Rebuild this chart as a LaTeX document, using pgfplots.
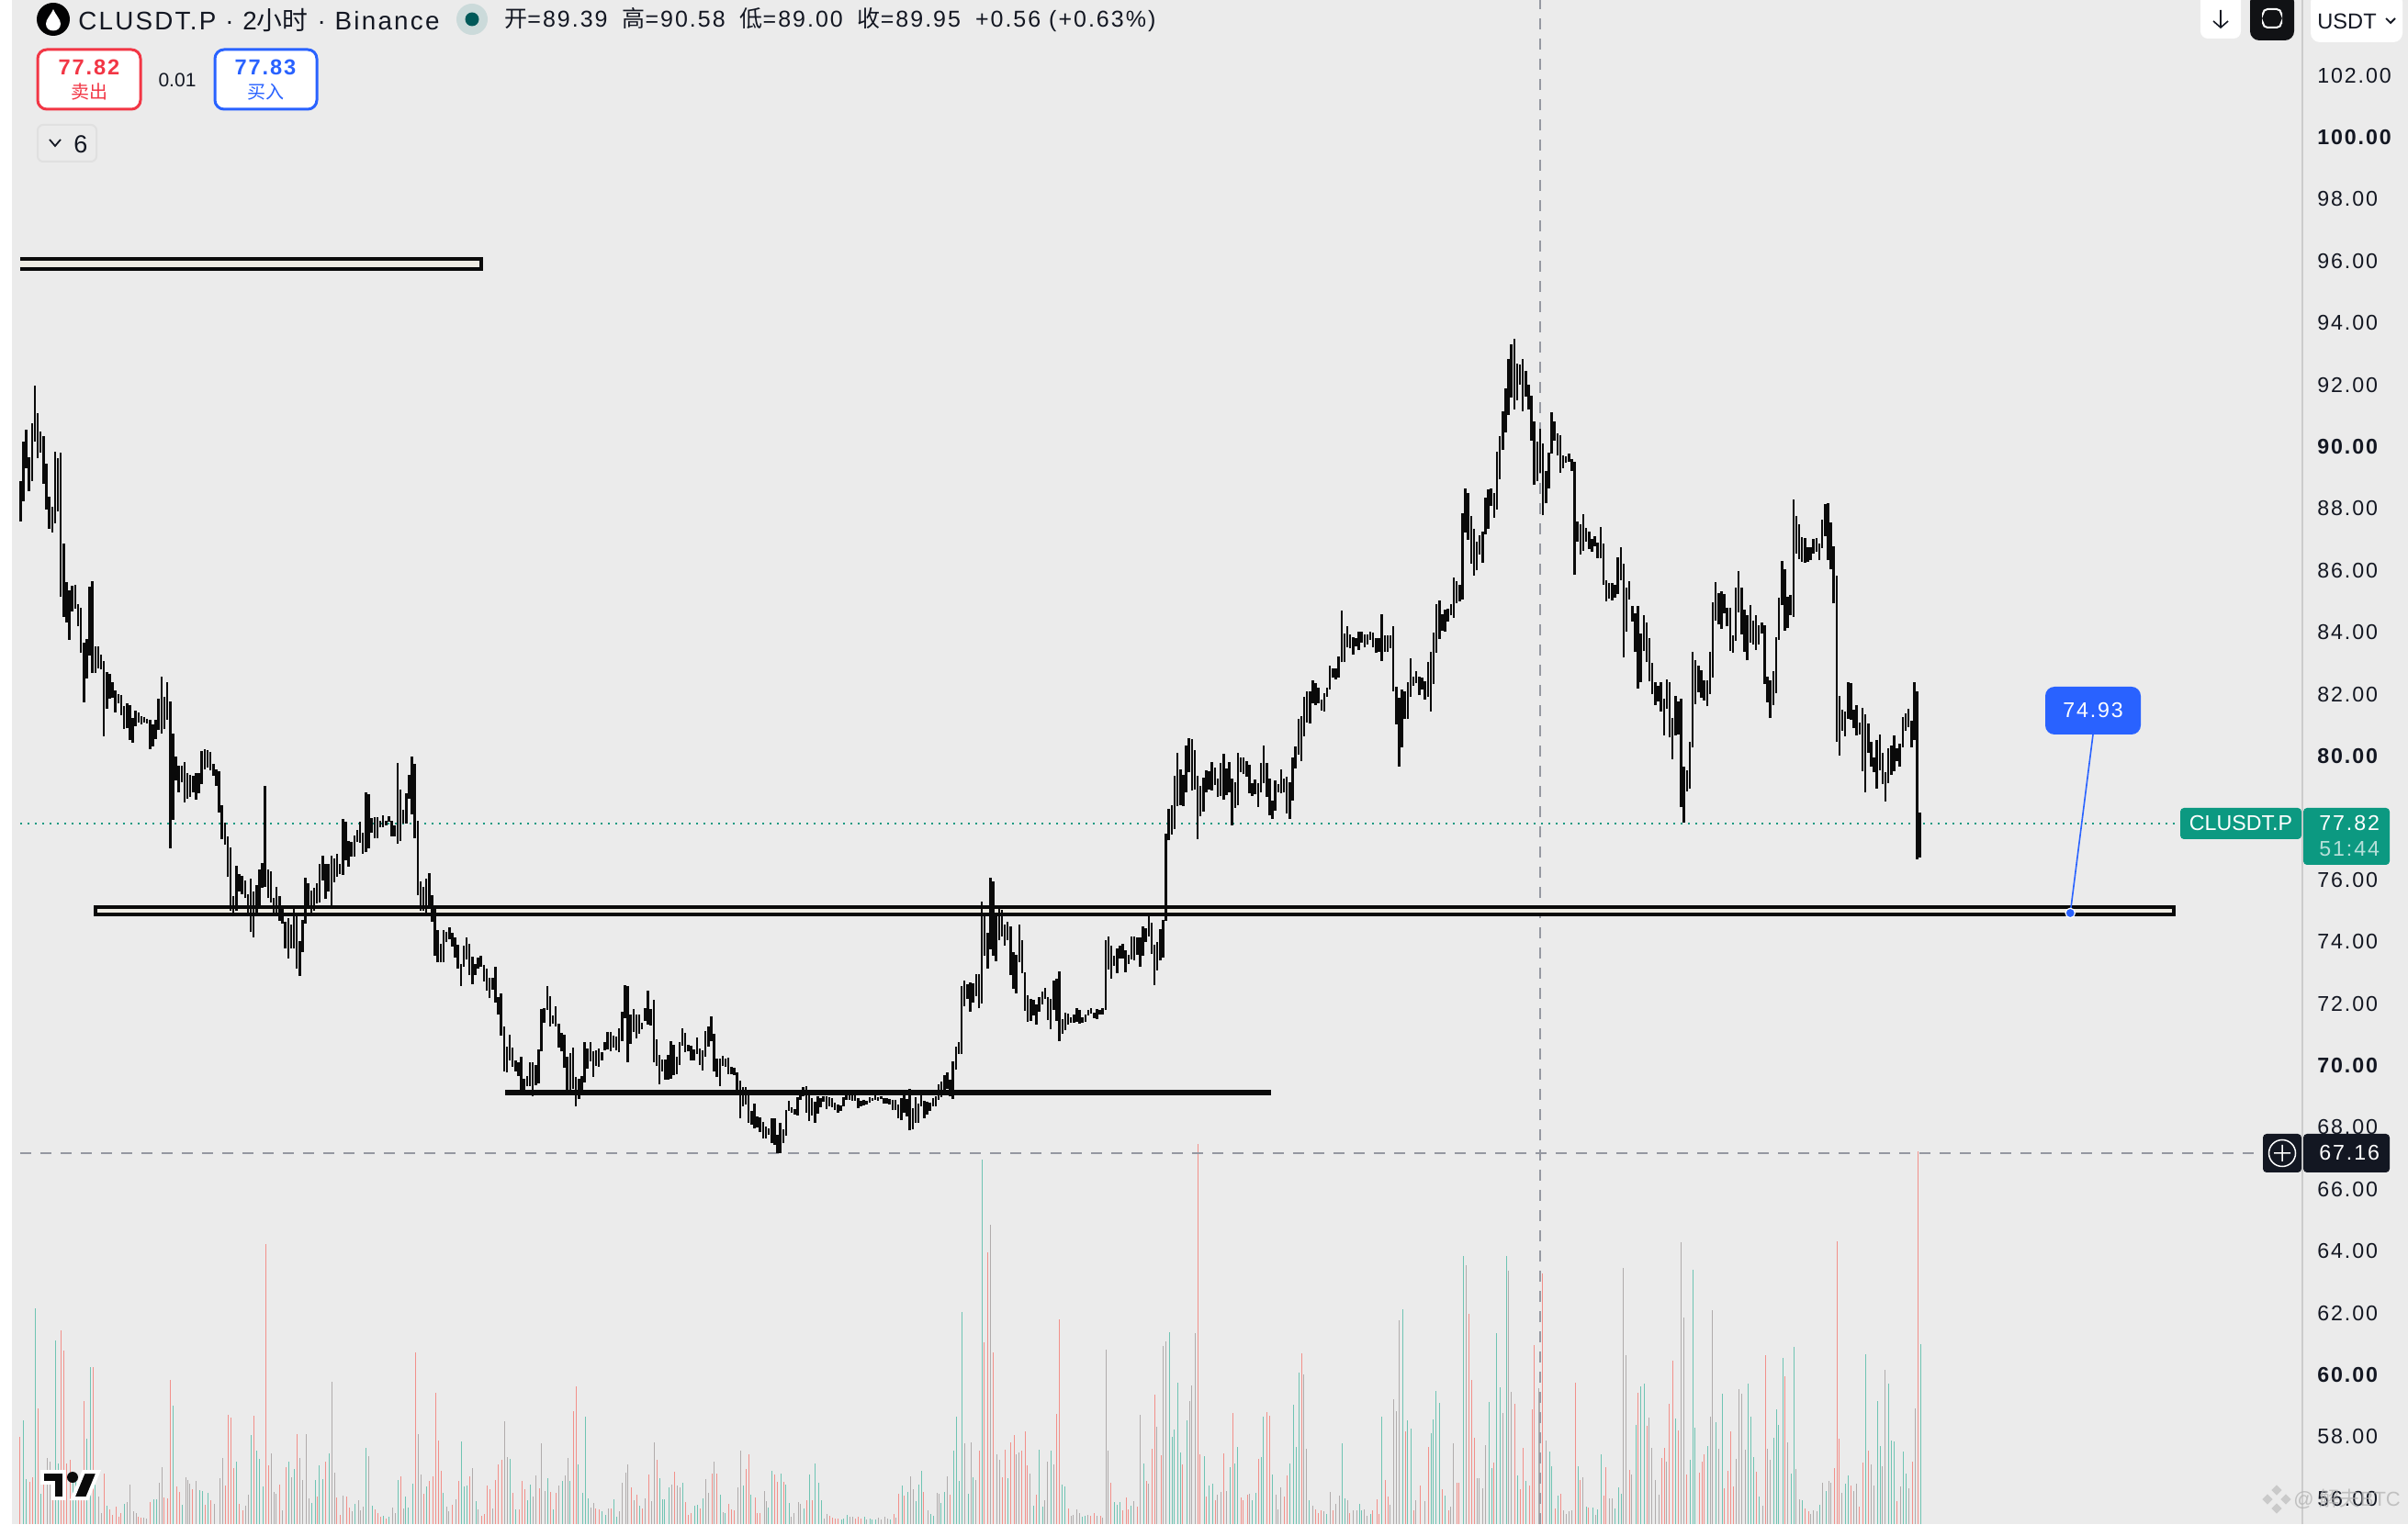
\documentclass[border=0pt]{standalone}
\usepackage{fontspec}
\usepackage{pgfplots}
\usepackage{pgfplotstable}
\pgfplotsset{compat=1.18}
\setmainfont{Liberation Sans}
\newfontfamily\cjk{Noto Sans CJK SC}
\newfontfamily\tickf[LetterSpace=8]{Liberation Sans}
\definecolor{bggrey}{HTML}{EBEBEB}
\definecolor{tvdark}{HTML}{131722}
\definecolor{tvblue}{HTML}{2962FF}
\definecolor{tvred}{HTML}{F23645}
\definecolor{tvgreen}{HTML}{0C9981}
\definecolor{cream}{HTML}{EFECE3}
\definecolor{barblack}{HTML}{0A0A0A}
\definecolor{crossg}{HTML}{9598A1}
\definecolor{volr}{HTML}{F2908A}
\definecolor{volg}{HTML}{6FC4B3}
\definecolor{volk}{HTML}{B0ACAC}
\pgfplotstableread{
i lo hi
0 87.59 88.88
1 88.24 90.18
2 89.32 90.55
3 88.57 89.65
4 88.89 90.75
5 90.18 91.99
6 89.63 91.08
7 89.82 90.50
8 88.81 90.34
9 87.98 89.45
10 87.36 88.40
11 87.24 88.06
12 87.53 89.83
13 87.91 89.62
14 85.16 89.81
15 84.51 86.87
16 84.32 85.62
17 83.77 85.36
18 84.67 85.50
19 84.77 85.53
20 84.20 84.90
21 83.34 84.79
22 81.74 83.66
23 82.52 83.78
24 83.26 85.48
25 82.69 85.65
26 82.69 83.54
27 82.83 83.54
28 82.80 83.28
29 80.65 83.07
30 81.54 82.71
31 81.86 82.65
32 81.89 82.39
33 81.42 82.12
34 81.70 82.00
35 81.33 81.97
36 80.88 81.61
37 80.90 81.70
38 80.53 81.65
39 80.44 81.22
40 80.97 81.46
41 81.09 81.41
42 81.04 81.29
43 81.09 81.26
44 81.07 81.20
45 80.23 81.17
46 80.32 81.04
47 80.56 81.17
48 80.84 81.85
49 80.72 82.56
50 80.87 81.91
51 81.18 82.39
52 77.03 81.77
53 77.95 80.72
54 79.22 79.98
55 78.84 79.69
56 79.17 79.69
57 78.51 79.81
58 78.63 79.45
59 78.68 79.38
60 78.84 79.37
61 78.60 79.45
62 78.81 79.45
63 79.10 80.16
64 79.58 80.24
65 79.63 80.19
66 79.54 80.15
67 79.36 79.75
68 79.05 79.57
69 78.19 79.50
70 77.33 78.42
71 77.13 77.85
72 76.09 77.40
73 74.99 77.04
74 74.81 75.48
75 75.01 76.46
76 75.63 76.19
77 75.54 76.12
78 75.41 75.98
79 74.81 75.55
80 74.32 76.03
81 74.15 75.63
82 74.81 75.83
83 75.08 76.34
84 75.74 76.54
85 75.77 79.04
86 75.41 76.34
87 75.28 76.27
88 74.94 75.41
89 74.88 75.77
90 74.68 75.48
91 74.58 75.08
92 73.79 74.64
93 73.46 74.77
94 73.78 74.55
95 73.79 75.08
96 73.12 74.84
97 72.91 74.02
98 73.67 74.71
99 74.60 76.07
100 75.08 75.89
101 74.81 75.67
102 74.99 75.74
103 75.24 75.89
104 75.26 76.51
105 75.98 76.77
106 75.38 76.53
107 75.63 76.53
108 75.08 76.77
109 75.93 76.69
110 76.11 76.83
111 76.19 76.51
112 76.16 77.97
113 76.63 77.87
114 76.43 77.25
115 76.76 77.22
116 76.75 77.44
117 77.22 77.62
118 77.20 77.87
119 76.85 77.52
120 76.89 78.84
121 77.03 78.76
122 77.52 77.99
123 77.36 78.02
124 77.36 78.02
125 77.69 77.92
126 77.70 78.08
127 77.75 77.91
128 77.89 78.06
129 77.42 77.92
130 77.41 77.77
131 77.17 79.78
132 77.25 78.92
133 77.83 78.26
134 77.83 78.80
135 78.63 79.38
136 78.12 79.98
137 77.36 79.74
138 75.52 77.91
139 75.01 75.94
140 75.01 75.77
141 74.92 76.03
142 75.14 76.22
143 74.65 75.50
144 73.55 75.08
145 73.34 74.38
146 73.33 73.93
147 73.34 74.38
148 73.98 74.31
149 74.09 74.47
150 73.86 74.28
151 73.49 74.15
152 73.13 73.89
153 72.57 73.28
154 73.20 73.87
155 73.42 74.15
156 72.93 73.93
157 72.64 73.53
158 72.93 73.29
159 73.12 73.49
160 73.18 73.54
161 72.72 73.25
162 72.43 73.13
163 72.17 72.83
164 72.46 72.83
165 72.03 73.18
166 71.64 72.22
167 70.98 72.34
168 69.80 71.27
169 69.77 70.62
170 70.18 71.00
171 69.97 70.59
172 69.81 70.17
173 69.67 70.11
174 69.21 70.29
175 69.13 69.58
176 69.32 69.67
177 69.34 70.11
178 69.00 70.11
179 69.37 70.02
180 69.43 70.53
181 70.45 71.83
182 71.39 71.85
183 71.80 72.58
184 71.25 72.25
185 71.36 71.63
186 71.27 71.92
187 70.57 71.36
188 70.45 71.06
189 69.92 71.00
190 69.20 70.27
191 69.21 70.41
192 69.25 70.59
193 68.67 69.64
194 68.93 69.58
195 69.20 69.67
196 69.44 70.77
197 69.91 70.56
198 70.14 70.77
199 69.64 70.47
200 70.00 70.50
201 69.97 70.56
202 70.17 70.44
203 70.50 70.77
204 70.53 71.09
205 70.47 71.09
206 70.59 70.97
207 70.50 70.95
208 70.44 71.21
209 70.80 71.75
210 71.54 72.61
211 70.12 72.58
212 70.71 71.66
213 71.09 71.83
214 70.89 71.66
215 71.03 71.66
216 71.16 71.39
217 71.45 71.86
218 71.33 72.43
219 71.30 71.83
220 70.12 72.13
221 70.00 70.86
222 69.40 70.35
223 69.82 70.20
224 69.55 70.20
225 69.55 70.35
226 69.57 70.80
227 69.70 70.68
228 69.73 70.29
229 70.03 70.77
230 70.65 71.21
231 70.44 71.06
232 70.47 70.68
233 70.17 70.65
234 70.17 70.53
235 70.38 70.91
236 70.03 70.56
237 69.85 70.50
238 70.27 71.12
239 70.62 71.27
240 70.80 71.60
241 69.82 71.03
242 69.63 70.23
243 69.34 70.23
244 69.99 70.32
245 69.97 70.23
246 69.73 70.26
247 69.73 69.97
248 69.70 69.94
249 69.22 69.79
250 68.29 69.52
251 68.69 69.31
252 68.74 69.30
253 68.16 69.04
254 68.10 68.54
255 67.98 68.78
256 68.01 68.36
257 67.85 68.33
258 67.65 68.19
259 67.65 68.03
260 67.77 67.98
261 67.50 68.30
262 67.44 68.30
263 67.16 67.77
264 67.18 68.16
265 67.50 67.95
266 67.74 68.57
267 68.54 68.87
268 68.48 68.66
269 68.42 68.60
270 68.39 68.99
271 68.90 69.13
272 69.00 69.31
273 68.48 69.34
274 68.21 69.13
275 68.39 68.96
276 68.16 68.84
277 68.45 69.02
278 68.66 68.96
279 68.84 69.02
280 68.60 69.02
281 68.69 68.99
282 68.66 68.96
283 68.57 68.81
284 68.48 68.75
285 68.54 68.72
286 68.69 68.99
287 68.90 69.13
288 68.90 69.08
289 68.87 69.05
290 68.87 69.05
291 68.63 68.96
292 68.69 68.87
293 68.72 68.90
294 68.75 68.87
295 68.81 68.99
296 68.87 68.96
297 68.90 69.08
298 68.87 68.99
299 68.93 69.02
300 68.78 68.96
301 68.78 68.96
302 68.75 68.93
303 68.57 68.90
304 68.57 68.90
305 68.30 68.75
306 68.25 68.96
307 68.48 69.05
308 68.36 68.93
309 67.90 69.25
310 67.95 68.63
311 68.16 68.99
312 68.16 68.78
313 68.69 69.05
314 68.30 68.87
315 68.42 68.84
316 68.54 68.81
317 68.69 68.96
318 68.69 69.02
319 68.90 69.40
320 68.99 69.49
321 69.22 69.70
322 69.25 69.79
323 69.00 69.55
324 68.93 70.14
325 69.86 70.62
326 70.38 70.77
327 70.38 72.58
328 71.92 72.76
329 72.16 72.64
330 71.75 72.70
331 72.04 72.67
332 72.25 72.96
333 71.86 72.96
334 72.02 75.31
335 73.56 74.92
336 73.14 74.30
337 73.76 76.08
338 73.56 75.96
339 73.38 74.95
340 74.06 75.07
341 74.18 75.04
342 73.88 74.57
343 74.06 74.65
344 72.93 74.51
345 72.49 73.67
346 72.34 73.59
347 73.35 74.57
348 72.99 74.06
349 71.78 73.02
350 71.42 72.28
351 71.45 72.16
352 71.63 72.13
353 71.32 71.98
354 71.75 72.20
355 71.98 72.40
356 72.16 72.52
357 71.48 72.22
358 71.18 72.16
359 71.81 72.76
360 71.45 72.82
361 70.80 73.05
362 71.03 71.51
363 71.15 71.72
364 71.33 71.69
365 71.39 71.57
366 71.39 71.66
367 71.41 71.86
368 71.36 71.81
369 71.39 71.57
370 71.42 71.66
371 71.63 71.81
372 71.69 71.86
373 71.54 71.71
374 71.51 71.83
375 71.66 71.81
376 71.66 71.86
377 71.81 74.06
378 73.11 74.18
379 72.81 73.88
380 73.23 73.56
381 72.99 73.78
382 73.47 73.88
383 73.47 73.94
384 73.02 73.73
385 73.29 73.59
386 73.43 74.18
387 73.41 74.18
388 73.59 74.15
389 73.20 74.15
390 73.56 74.51
391 74.00 74.45
392 74.18 74.92
393 73.62 74.62
394 72.61 73.91
395 73.08 74.00
396 73.39 74.42
397 73.50 74.71
398 74.68 77.50
399 77.28 78.30
400 77.48 78.42
401 77.65 79.37
402 78.38 80.12
403 78.42 79.58
404 78.38 79.40
405 78.82 80.35
406 79.47 80.59
407 78.88 80.56
408 78.92 80.21
409 77.33 79.37
410 78.05 79.05
411 78.21 79.30
412 78.82 79.55
413 78.92 79.51
414 78.88 79.82
415 79.07 79.64
416 78.67 79.27
417 78.71 79.79
418 78.58 80.08
419 78.75 79.60
420 78.83 79.82
421 77.76 79.27
422 78.34 79.16
423 78.41 80.10
424 79.49 79.97
425 79.43 79.97
426 79.34 79.84
427 78.81 79.73
428 78.72 79.12
429 78.76 79.25
430 78.37 79.12
431 78.83 79.79
432 79.13 80.35
433 78.68 79.77
434 78.10 79.27
435 77.98 78.57
436 78.24 79.22
437 78.84 79.10
438 78.81 79.57
439 78.82 79.27
440 78.15 79.33
441 77.98 79.16
442 78.57 79.96
443 79.60 80.32
444 80.06 81.21
445 79.84 81.30
446 80.65 81.92
447 81.10 82.10
448 81.05 82.10
449 81.70 82.45
450 81.66 82.36
451 81.72 82.22
452 81.48 81.83
453 81.43 82.05
454 81.91 82.22
455 82.16 82.93
456 82.53 82.84
457 82.48 82.84
458 82.55 83.23
459 83.03 84.71
460 83.03 83.95
461 83.52 84.20
462 83.48 83.92
463 83.27 83.86
464 83.56 83.83
465 83.44 84.03
466 83.68 84.03
467 83.51 83.92
468 83.61 83.92
469 83.75 84.01
470 83.51 84.00
471 83.33 83.81
472 83.37 83.81
473 83.08 84.59
474 83.37 83.91
475 83.37 83.89
476 83.50 83.91
477 82.10 84.20
478 81.03 82.25
479 79.67 81.90
480 80.28 82.16
481 81.19 82.10
482 81.20 82.40
483 81.91 83.17
484 82.28 82.57
485 82.36 82.75
486 81.97 82.57
487 82.14 82.55
488 81.83 82.42
489 81.93 83.04
490 81.45 83.37
491 82.34 84.00
492 83.35 84.92
493 83.79 85.03
494 84.04 84.58
495 84.01 84.73
496 84.35 84.77
497 84.55 84.92
498 84.48 85.76
499 84.95 85.66
500 85.01 85.54
501 85.07 87.86
502 87.24 88.64
503 87.00 88.50
504 86.22 87.77
505 85.84 87.36
506 86.00 86.93
507 86.52 87.14
508 86.26 87.27
509 87.18 88.36
510 87.34 88.63
511 88.08 88.65
512 87.71 88.50
513 87.97 89.85
514 88.96 90.35
515 89.89 91.15
516 90.47 91.89
517 91.03 92.85
518 91.60 93.32
519 91.21 93.49
520 91.49 92.70
521 92.00 92.66
522 91.15 92.85
523 91.63 92.46
524 91.19 92.02
525 90.20 91.65
526 88.76 90.82
527 88.88 90.18
528 89.15 90.57
529 87.78 90.11
530 88.17 89.21
531 88.65 89.80
532 89.78 91.12
533 90.20 90.82
534 89.71 90.44
535 89.15 90.36
536 89.32 89.71
537 89.48 89.70
538 89.52 89.79
539 89.22 89.60
540 85.85 89.51
541 86.94 87.59
542 86.52 87.50
543 86.63 87.83
544 86.94 87.38
545 86.70 87.27
546 86.62 87.03
547 86.79 87.10
548 86.41 86.89
549 86.39 87.42
550 85.54 86.88
551 85.01 85.68
552 85.10 85.60
553 85.04 85.60
554 85.12 85.54
555 85.25 86.43
556 85.69 86.76
557 83.18 86.22
558 84.01 85.44
559 85.05 85.66
560 84.35 84.85
561 83.36 84.62
562 82.19 84.85
563 82.39 83.96
564 83.39 84.56
565 83.04 84.33
566 82.41 83.82
567 82.00 83.00
568 81.66 82.39
569 81.76 82.26
570 81.45 82.40
571 80.68 81.86
572 81.52 82.48
573 80.60 82.40
574 79.91 81.24
575 80.66 81.95
576 80.71 81.77
577 78.37 81.85
578 77.84 79.67
579 78.87 79.55
580 78.96 80.47
581 80.27 83.36
582 81.69 83.10
583 82.07 82.93
584 81.89 82.78
585 81.81 82.45
586 81.61 82.45
587 82.02 83.36
588 82.55 84.98
589 84.39 85.63
590 84.27 85.27
591 84.12 85.33
592 84.62 85.24
593 84.21 84.80
594 83.40 84.80
595 83.33 83.90
596 83.73 85.45
597 84.66 85.98
598 83.94 85.45
599 83.38 84.74
600 83.09 84.56
601 83.67 84.89
602 83.60 84.39
603 83.44 84.56
604 83.62 84.24
605 83.95 84.33
606 82.34 84.24
607 81.75 82.57
608 81.22 82.45
609 81.65 82.75
610 82.05 83.85
611 83.77 85.13
612 84.89 86.31
613 84.06 86.05
614 84.15 85.16
615 84.56 85.21
616 84.51 88.30
617 86.55 87.77
618 86.37 87.50
619 86.28 87.08
620 86.25 87.05
621 86.28 86.76
622 86.34 86.76
623 86.55 87.02
624 86.61 87.05
625 86.34 86.88
626 86.73 87.65
627 87.11 88.15
628 86.34 88.18
629 86.05 87.56
630 84.93 86.79
631 80.47 85.84
632 80.03 81.95
633 80.82 81.50
634 80.65 81.45
635 81.20 82.39
636 81.18 82.37
637 80.91 81.50
638 80.67 81.65
639 80.70 81.09
640 79.52 81.56
641 78.83 81.36
642 80.11 81.06
643 79.67 80.47
644 79.49 79.96
645 78.95 80.53
646 79.55 80.70
647 79.10 80.11
648 78.54 79.49
649 79.13 80.26
650 79.40 80.35
651 79.52 80.67
652 79.84 80.26
653 79.67 80.41
654 80.29 81.27
655 80.82 81.39
656 80.94 81.54
657 80.29 81.15
658 80.53 82.39
659 76.67 82.10
660 76.73 78.18
}\candles
\pgfplotstableread{
x h c
31 95 0
36 113 1
41 49 1
46 46 0
50 51 0
55 235 1
59 126 0
64 33 1
68 43 0
73 72 2
77 68 2
82 33 0
86 200 1
90 66 1
95 211 0
99 189 0
104 66 0
109 70 0
113 57 1
118 47 1
122 43 0
126 37 0
130 134 0
134 93 1
141 171 1
144 171 0
148 43 1
153 30 2
157 12 2
162 55 0
166 20 1
170 16 0
175 10 0
180 19 0
184 8 0
188 12 0
193 22 1
197 24 2
201 43 2
208 14 2
211 12 2
215 8 0
219 7 0
223 7 2
227 6 2
233 24 0
239 27 1
243 27 1
247 45 2
251 62 2
255 29 0
260 28 0
265 157 0
268 129 1
274 41 0
279 35 0
283 21 1
288 51 2
292 48 2
295 44 2
299 38 0
305 47 2
310 37 1
314 36 1
319 21 0
323 34 1
327 26 0
333 22 2
341 50 2
346 72 2
350 42 0
354 119 0
358 116 0
363 61 0
367 68 1
372 22 0
377 15 0
381 20 2
385 32 2
390 97 1
394 118 0
398 80 1
403 71 1
408 41 1
412 305 0
417 64 0
421 77 2
425 35 2
429 33 2
434 43 0
439 15 2
444 62 0
449 68 1
452 51 2
457 60 1
461 98 0
465 72 2
470 48 2
475 98 2
479 28 2
484 23 1
489 48 1
492 30 0
496 64 1
501 49 1
506 68 0
511 77 1
516 155 2
519 56 2
523 29 0
528 10 0
533 31 2
538 30 0
543 18 0
547 14 2
551 22 1
556 26 2
560 15 2
564 19 2
568 83 1
573 74 2
578 20 1
583 16 0
587 12 0
591 8 0
595 9 1
600 6 0
604 8 1
610 18 2
614 12 2
618 48 1
622 52 0
627 17 2
630 30 1
634 18 1
641 44 1
645 187 0
649 98 2
654 54 2
658 33 0
662 41 1
667 47 0
672 52 0
676 143 0
681 91 0
685 58 0
688 34 1
693 19 2
697 14 2
702 21 0
708 27 2
712 47 0
716 90 1
720 41 1
725 42 1
729 52 0
733 61 2
739 25 1
742 16 2
747 9 0
752 11 0
756 42 0
760 38 0
765 17 2
769 48 0
774 65 0
779 70 0
783 112 2
787 73 2
792 71 1
796 34 0
801 16 1
806 16 0
811 47 0
814 38 0
819 26 1
823 43 1
828 30 2
832 53 2
837 39 0
841 88 2
846 36 2
851 50 1
855 35 0
859 16 1
863 34 0
868 42 2
873 47 1
878 53 2
882 72 2
885 47 1
890 123 0
894 150 0
898 65 1
904 34 1
909 117 1
913 28 1
918 18 2
922 23 2
925 17 0
930 16 0
935 14 1
940 10 1
945 17 2
949 17 0
953 27 1
957 8 1
962 14 2
966 45 2
971 56 2
975 65 2
980 40 0
984 26 2
988 32 0
993 20 1
997 17 0
1002 28 2
1007 54 0
1011 25 2
1015 89 2
1020 70 0
1024 50 1
1028 27 1
1032 27 1
1039 40 1
1043 43 2
1047 57 0
1051 42 2
1055 40 2
1060 45 1
1064 24 0
1068 10 0
1073 12 0
1078 20 1
1082 21 1
1087 17 0
1091 28 1
1095 49 2
1100 34 2
1105 55 0
1109 68 2
1113 55 0
1118 32 1
1122 13 2
1126 12 1
1131 22 0
1136 16 0
1140 15 0
1145 40 2
1149 80 2
1154 42 1
1158 60 0
1162 76 0
1166 32 1
1172 29 0
1176 12 0
1180 12 0
1186 36 2
1189 25 2
1193 18 1
1198 58 1
1203 54 0
1207 46 0
1212 55 1
1216 46 0
1220 43 1
1225 23 1
1228 8 2
1233 12 2
1239 24 2
1243 22 2
1248 17 1
1252 26 0
1257 54 1
1261 26 0
1265 66 1
1271 45 1
1275 26 1
1279 6 2
1284 11 2
1288 9 0
1292 7 0
1296 6 0
1301 6 0
1306 5 1
1310 6 1
1315 10 1
1319 8 2
1323 8 2
1328 6 0
1332 8 0
1337 6 0
1342 8 1
1345 5 2
1350 6 1
1354 5 1
1359 5 1
1363 7 2
1368 5 2
1374 8 2
1378 6 2
1382 5 1
1387 11 0
1390 7 2
1395 33 0
1400 42 1
1404 31 0
1409 35 1
1413 52 2
1417 38 2
1422 25 1
1426 43 1
1430 58 1
1434 35 0
1441 15 2
1445 11 1
1449 9 1
1454 34 2
1458 33 2
1461 23 1
1466 35 1
1471 52 2
1475 32 0
1481 80 1
1484 117 1
1489 47 1
1493 231 1
1498 88 2
1503 33 1
1507 89 2
1511 51 1
1515 48 2
1520 80 0
1524 397 1
1528 198 0
1533 296 0
1538 326 2
1542 187 0
1547 76 2
1551 70 2
1556 51 0
1560 81 0
1564 50 1
1569 89 0
1574 97 0
1578 76 2
1582 78 2
1586 80 0
1591 101 0
1595 64 0
1599 55 2
1605 20 1
1609 32 0
1613 81 1
1618 19 1
1622 26 2
1626 68 2
1631 80 1
1636 65 2
1640 120 0
1645 223 0
1649 43 1
1653 41 1
1658 17 0
1663 9 2
1666 10 2
1672 16 2
1676 12 2
1680 8 1
1684 9 1
1689 10 2
1693 9 0
1698 12 0
1703 9 2
1708 9 0
1712 7 2
1717 190 2
1720 80 2
1724 45 0
1730 24 1
1734 21 1
1739 24 1
1743 15 0
1748 29 0
1751 16 0
1756 20 1
1760 25 2
1765 19 0
1770 119 2
1775 66 1
1779 47 0
1783 44 2
1788 82 0
1792 141 0
1796 106 2
1802 75 0
1806 194 2
1810 199 2
1815 209 1
1819 95 1
1823 103 1
1828 154 1
1832 78 1
1836 65 0
1842 113 1
1846 134 2
1850 151 2
1855 208 2
1859 414 0
1863 76 0
1869 74 1
1873 30 0
1877 42 1
1882 44 1
1886 26 0
1890 32 2
1895 35 2
1899 77 0
1904 36 2
1909 62 1
1914 121 0
1917 66 1
1921 84 1
1926 29 0
1930 26 0
1936 32 0
1940 33 2
1944 26 1
1949 34 1
1953 71 0
1958 73 1
1961 117 1
1966 122 0
1971 118 0
1975 54 1
1980 32 2
1984 16 2
1988 40 2
1993 30 0
1998 53 0
2002 66 1
2008 130 1
2012 84 1
2016 165 1
2020 186 0
2024 163 2
2028 82 2
2032 26 1
2038 20 2
2042 16 0
2046 12 0
2051 15 0
2055 14 2
2059 11 1
2065 35 2
2069 15 0
2074 22 2
2079 31 2
2083 88 1
2087 28 1
2092 26 2
2095 12 0
2101 15 2
2106 15 2
2110 22 1
2113 15 1
2118 16 2
2122 9 2
2127 11 1
2131 15 0
2137 27 0
2141 11 0
2145 117 1
2150 48 0
2154 30 0
2158 21 2
2163 136 2
2168 123 2
2172 222 2
2177 234 1
2181 101 0
2185 113 1
2190 104 1
2194 15 0
2198 26 2
2204 42 0
2212 25 2
2217 84 0
2221 99 1
2225 114 1
2229 145 1
2235 132 1
2239 38 0
2243 31 1
2248 15 0
2252 19 2
2256 88 2
2261 45 0
2265 45 0
2271 292 1
2276 282 2
2280 229 0
2284 157 0
2288 94 0
2293 50 2
2296 50 2
2302 39 2
2306 86 2
2311 133 1
2315 61 1
2319 67 0
2323 208 1
2328 149 1
2333 121 2
2338 292 1
2342 276 2
2346 144 2
2351 131 0
2355 53 1
2360 38 0
2364 83 0
2369 47 1
2374 42 0
2378 125 0
2381 195 0
2388 148 2
2390 140 2
2394 273 0
2400 91 2
2405 79 1
2409 63 1
2414 17 0
2418 31 1
2422 33 0
2427 15 2
2431 11 2
2436 14 2
2440 15 2
2445 154 0
2449 63 1
2453 48 0
2457 51 2
2462 19 1
2466 18 0
2472 18 1
2477 10 2
2480 16 1
2485 76 1
2489 31 0
2493 62 0
2498 28 2
2503 28 2
2507 17 1
2512 40 1
2516 33 1
2520 279 2
2524 184 2
2529 59 0
2533 54 2
2539 108 1
2543 143 0
2547 150 1
2552 153 1
2556 107 0
2560 116 2
2564 83 2
2570 48 2
2575 32 2
2579 72 0
2583 83 0
2587 68 2
2591 131 0
2596 178 0
2601 115 1
2605 102 0
2610 307 2
2614 225 2
2618 54 0
2623 70 1
2628 277 1
2631 105 1
2638 56 0
2642 68 0
2645 76 0
2650 85 1
2655 117 2
2658 233 2
2663 111 1
2668 82 2
2673 142 1
2677 39 0
2682 58 0
2686 101 0
2690 41 0
2695 71 2
2699 147 2
2704 142 2
2709 81 2
2713 153 1
2717 117 1
2722 73 1
2726 57 0
2730 30 1
2736 20 2
2740 184 0
2744 82 2
2748 70 2
2753 94 1
2757 125 1
2761 108 1
2767 181 1
2771 161 0
2775 89 2
2780 55 1
2784 193 1
2788 60 2
2793 27 2
2797 26 1
2802 17 0
2807 14 0
2811 11 2
2815 15 2
2820 14 2
2824 21 1
2829 45 2
2834 36 1
2839 47 2
2842 45 2
2847 61 0
2851 308 0
2855 93 0
2859 34 2
2864 44 1
2869 53 1
2873 42 0
2878 36 2
2882 44 2
2886 19 0
2891 67 0
2896 185 1
2900 80 0
2905 65 2
2909 42 2
2914 134 1
2918 85 1
2922 63 2
2926 168 2
2931 153 1
2936 91 1
2940 90 1
2945 25 0
2950 41 2
2954 79 1
2958 55 1
2963 39 2
2968 68 0
2973 126 2
2977 406 0
2981 196 1
}\volume
\begin{document}
\begin{tikzpicture}
\useasboundingbox (0,0) rectangle (1311pt,830pt);
\fill[white] (0,0) rectangle (1311pt,830pt);
\fill[bggrey] (6.5pt,0) rectangle (1311pt,830pt);
% volume
\begin{axis}[at={(6.5pt,0pt)},anchor=south west,scale only axis,width=1247pt,height=830pt,
  hide axis,xmin=18.53,xmax=3573.7,ymin=0,ymax=1660]
\addplot[ycomb,no markers,line width=0.5pt,volr,y filter/.expression={\thisrow{c}==0?y:nan}] table[x=x,y=h] {\volume};
\addplot[ycomb,no markers,line width=0.5pt,volg,y filter/.expression={\thisrow{c}==1?y:nan}] table[x=x,y=h] {\volume};
\addplot[ycomb,no markers,line width=0.5pt,volk,y filter/.expression={\thisrow{c}==2?y:nan}] table[x=x,y=h] {\volume};
\end{axis}
% price
\begin{axis}[at={(6.5pt,0pt)},anchor=south west,scale only axis,width=1247pt,height=830pt,
  axis x line=none,axis y line=right,axis line style={-,color=black!20,line width=1.25pt},
  xmin=-2.97,xmax=792.87,ymin=55.18,ymax=104.44,
  ytick={56,58,...,102},major tick length=0pt,
  yticklabels={56.00,58.00,\textbf{60.00},62.00,64.00,66.00,68.00,\textbf{70.00},72.00,74.00,76.00,78.00,\textbf{80.00},82.00,84.00,86.00,88.00,\textbf{90.00},92.00,94.00,96.00,98.00,\textbf{100.00},102.00},
  yticklabel style={anchor=west,inner sep=0pt,xshift=8pt,text=tvdark,font=\tickf\fontsize{11.6pt}{13pt}\selectfont},
  clip=true]
% crosshair, last price
\addplot[crossg,line width=1pt,dash pattern=on 6pt off 5pt] coordinates {(528.0,55.18)(528.0,104.44)};
\addplot[crossg,line width=1pt,dash pattern=on 6pt off 5pt] coordinates {(-0.1,67.16)(778.8,67.16)};
\addplot[tvgreen,line width=1.1pt,dash pattern=on 1.1pt off 2.9pt] coordinates {(-0.1,77.82)(749.2,77.82)};
% drawn zones
\addplot[draw=barblack,fill=cream,line width=2pt] coordinates {(-0.1,95.74)(160.0,95.74)(160.0,96.07)(-0.1,96.07)};
\addplot[draw=barblack,fill=cream,line width=2pt] coordinates {(26.0,74.89)(748.2,74.89)(748.2,75.12)(26.0,75.12)} -- cycle;
\addplot[barblack,line width=2.85pt] coordinates {(168.4,69.13)(434.5,69.13)};
% bars: low to high
\addplot[draw=none,mark=none,forget plot,error bars/.cd,y dir=plus,y explicit,error mark=none,error bar style={line width=1.25pt,color=barblack}]
  table[x=i,y=lo,y error expr=\thisrow{hi}-\thisrow{lo}] {\candles};
% target
\addplot[tvblue,line width=0.8pt] coordinates {(720.1,80.70)(712.2,74.93)};
\addplot[only marks,mark=*,mark size=2.6pt,mark options={fill=tvblue,draw=white,line width=0.6pt}] coordinates {(712.2,74.93)};
\end{axis}
\begin{scope}[shift={(0,830pt)},x=0.5pt,y=-0.5pt]
% header
\fill[black!90!tvdark] (58,21) circle (18);
\fill[white] (58,10) .. controls (55,17) and (50,21) .. (50,26) .. controls (50,36) and (66,36) .. (66,26) .. controls (66,21) and (61,17) .. (58,10) -- cycle;
\node[anchor=west,inner sep=0,text=tvdark] at (85,22) {\fontsize{13.9pt}{16pt}\selectfont\tickf CLUSDT.P · 2{\cjk 小时} · Binance};
\fill[black!10!teal!15!white!85!gray] (514,21) circle (17);
\fill[teal!70!black] (514,21) circle (7.5);
\node[anchor=west,inner sep=0,text=tvdark] at (549,22) {\fontsize{12.5pt}{14pt}\selectfont\tickf {\cjk 开}=89.39\hspace{8pt}{\cjk 高}=90.58\hspace{8pt}{\cjk 低}=89.00\hspace{8pt}{\cjk 收}=89.95\hspace{8pt}+0.56 (+0.63\%)};
% sell, buy
\draw[tvred,fill=white,line width=1.5pt,rounded corners=5pt] (41,54) rectangle (153,119);
\node[inner sep=0,text=tvred] at (97,73) {\fontsize{11.8pt}{13pt}\selectfont\tickf\bfseries 77.82};
\node[inner sep=0,text=tvred] at (97,100) {\fontsize{10pt}{11pt}\selectfont\cjk 卖出};
\node[inner sep=0,text=tvdark] at (193,87) {\fontsize{10.5pt}{12pt}\selectfont 0.01};
\draw[tvblue,fill=white,line width=1.5pt,rounded corners=5pt] (234,54) rectangle (345,119);
\node[inner sep=0,text=tvblue] at (289,73) {\fontsize{11.8pt}{13pt}\selectfont\tickf\bfseries 77.83};
\node[inner sep=0,text=tvblue] at (289,100) {\fontsize{10pt}{11pt}\selectfont\cjk 买入};
\draw[black!12,line width=1pt,rounded corners=3pt] (41,136) rectangle (105,176);
\draw[tvdark,line width=0.9pt] (54,152)--(60,159)--(66,152);
\node[inner sep=0,text=tvdark] at (88,157) {\fontsize{13.5pt}{15pt}\selectfont 6};
% top right
\fill[white,rounded corners=4pt] (2396,-8) rectangle (2440,42);
\draw[tvdark,line width=0.8pt] (2418,11)--(2418,30) (2410,23)--(2418,30)--(2426,23);
\fill[black!75!tvdark!95!white,rounded corners=5pt] (2450,-8) rectangle (2498,44);
\draw[white,line width=1pt,rounded corners=2.5pt] (2464,14)--(2464,10)--(2484,10)--(2484,14);
\draw[white,line width=1pt,rounded corners=2.5pt] (2464,26)--(2464,30)--(2484,30)--(2484,26);
\fill[white,rounded corners=5pt] (2516,-8) rectangle (2616,46);
\node[anchor=west,inner sep=0,text=tvdark] at (2523,23) {\fontsize{11.8pt}{13pt}\selectfont USDT};
\draw[tvdark,line width=0.9pt] (2598,20)--(2603,25)--(2608,20);
% price labels
\fill[tvgreen,rounded corners=2pt] (2374,880) rectangle (2506,914);
\node[inner sep=0,text=white] at (2440,897) {\fontsize{11.6pt}{13pt}\selectfont CLUSDT.P};
\fill[tvgreen,rounded corners=2pt] (2508,880) rectangle (2602,942);
\node[anchor=west,inner sep=0,text=white] at (2525,897) {\fontsize{11.6pt}{13pt}\selectfont\tickf 77.82};
\node[anchor=west,inner sep=0,text=white!70!tvgreen] at (2525,925) {\fontsize{11.6pt}{13pt}\selectfont\tickf 51:44};
\fill[tvdark,rounded corners=2pt] (2464,1235) rectangle (2506,1277);
\fill[tvdark,rounded corners=2pt] (2508,1235) rectangle (2602,1277);
\draw[white,line width=0.75pt] (2485,1256) circle (14.5) (2476,1256)--(2494,1256) (2485,1247)--(2485,1265);
\node[anchor=west,inner sep=0,text=white] at (2525,1256) {\fontsize{11.6pt}{13pt}\selectfont\tickf 67.16};
% target label
\fill[tvblue,rounded corners=5pt] (2227,748) rectangle (2331,800);
\node[inner sep=0,text=white] at (2279,774) {\fontsize{11.6pt}{13pt}\selectfont\tickf 74.93};
% tv logo
\draw[white,fill=barblack,line width=2pt,line join=miter] (45.5,1603)--(70,1603)--(70,1632)--(57.5,1632)--(57.5,1615)--(45.5,1615)--cycle;
\draw[white,fill=barblack,line width=2pt,line join=miter] (91,1603)--(107,1603)--(95,1632)--(79,1632)--cycle;
\fill[barblack] (79,1609) circle (6);
% watermark
\begin{scope}[opacity=0.75]
\foreach \d/\e in {0/-10,0/10,-10/0,10/0}{\fill[black!25,shift={(2479+\d,1633+\e)},rotate=45] (-4,-4) rectangle (4,4);}
\node[anchor=west,inner sep=0,text=black!30] at (2497,1633) {\fontsize{11pt}{13pt}\selectfont @ {\cjk 解夫}BTC};
\end{scope}
\end{scope}
\end{tikzpicture}
\end{document}
